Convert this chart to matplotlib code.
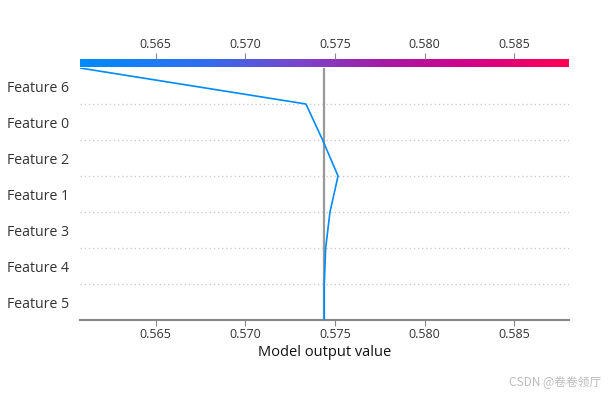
import matplotlib
matplotlib.use("Agg")
import matplotlib.pyplot as plt
from matplotlib.colors import LinearSegmentedColormap, Normalize
import numpy as np

plt.rcParams['font.family'] = ['Open Sans', 'DejaVu Sans']

# Data (bottom to top)
features = ["Feature 5", "Feature 4", "Feature 3", "Feature 1", "Feature 2", "Feature 0", "Feature 6"]
base_value = 0.57440
cumulative = [0.57440, 0.57440, 0.57448, 0.57472, 0.57517, 0.57431, 0.57338, 0.56078]
xlim = (0.56078, 0.58805)
xticks = [0.565, 0.570, 0.575, 0.580, 0.585]

cmap = LinearSegmentedColormap.from_list(
    "red_blue",
    [(0.0, "#008bfb"), (0.25, "#2f6ff0"), (0.45, "#7a45cc"), (0.62, "#a61aa6"),
     (0.8, "#d4008a"), (1.0, "#ff0052")])
norm = Normalize(vmin=xlim[0], vmax=xlim[1])

fig = plt.figure(figsize=(6.10, 3.95), dpi=100)
W, H = 610, 395
ax = fig.add_axes([80 / W, 1 - 320 / H, (569 - 80) / W, (320 - 68) / H])
cax = fig.add_axes([80 / W, 1 - 67 / H, (569 - 80) / W, 8 / H])

n = len(features)
# grid lines
for i in range(1, n):
    ax.axhline(i, color="#cccccc", lw=1, ls=(0, (1, 2)), zorder=1)

ax.axvline(base_value, color="#999999", lw=1.6, zorder=2)

yvals = np.arange(n + 1)
ax.plot(cumulative, yvals, color=cmap(norm(cumulative[-1])), lw=1.2, zorder=3)

ax.set_xlim(*xlim)
ax.set_ylim(0, n)
ax.set_yticks(np.arange(n) + 0.5)
ax.set_yticklabels(features, fontsize=10.2, color="#333333")
ax.tick_params(axis="y", length=0, pad=8)
ax.set_xticks(xticks)
ax.set_xticklabels([f"{t:.3f}" for t in xticks], fontsize=9, color="#333333")
ax.tick_params(axis="x", length=4, color="#888888", pad=2)
for s in ["left", "right", "top"]:
    ax.spines[s].set_visible(False)
ax.spines["bottom"].set_color("#888888")
ax.spines["bottom"].set_linewidth(1.5)
ax.set_xlabel("Model output value", fontsize=10.5, color="#111111", labelpad=3)

# colorbar on top
grad = np.linspace(xlim[0], xlim[1], 512).reshape(1, -1)
cax.imshow(grad, aspect="auto", cmap=cmap, norm=norm,
           extent=[xlim[0], xlim[1], 0, 1])
cax.set_xlim(*xlim)
cax.set_yticks([])
cax.xaxis.set_ticks_position("top")
cax.set_xticks(xticks)
cax.set_xticklabels([f"{t:.3f}" for t in xticks], fontsize=9, color="#333333")
cax.tick_params(axis="x", length=4, color="#888888", pad=2)
for s in cax.spines.values():
    s.set_visible(False)

fig.text(601 / W, 1 - 383 / H, "CSDN @卷卷领厅", ha="right", va="center",
         fontsize=8.5, color="#bbbbbb",
         family=["Noto Sans CJK SC", "DejaVu Sans"])

fig.savefig("out.png", dpi=100)
